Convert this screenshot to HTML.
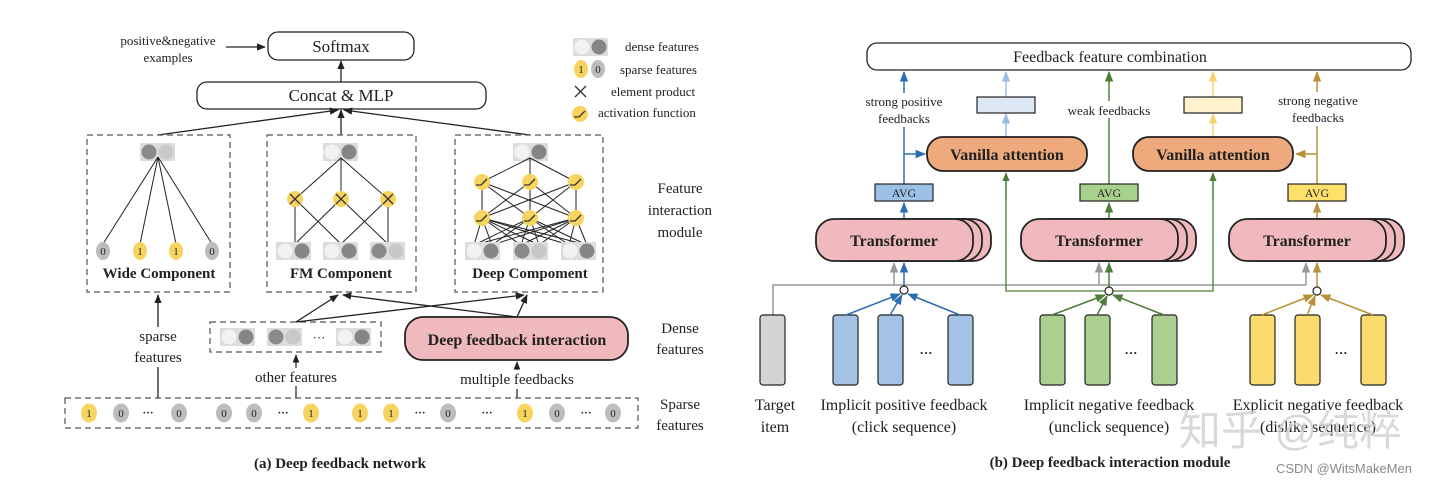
<!DOCTYPE html>
<html><head><meta charset="utf-8"><style>
html,body{margin:0;padding:0;background:#fff;}
svg{display:block;}
text{font-family:"Liberation Serif",serif;fill:#222;}
.b{font-weight:bold;}
</style></head><body>
<svg width="1440" height="485" viewBox="0 0 1440 485" xmlns="http://www.w3.org/2000/svg">
<defs>
<marker id="ak" viewBox="0 0 10 10" refX="9" refY="5" markerWidth="7" markerHeight="7" orient="auto-start-reverse"><path d="M0,1 L10,5 L0,9 z" fill="#222"/></marker>
<marker id="ab" viewBox="0 0 10 10" refX="9" refY="5" markerWidth="7" markerHeight="7" orient="auto"><path d="M0,1 L10,5 L0,9 z" fill="#2e6db4"/></marker>
<marker id="alb" viewBox="0 0 10 10" refX="9" refY="5" markerWidth="7" markerHeight="7" orient="auto"><path d="M0,1 L10,5 L0,9 z" fill="#9dbde3"/></marker>
<marker id="ag" viewBox="0 0 10 10" refX="9" refY="5" markerWidth="7" markerHeight="7" orient="auto"><path d="M0,1 L10,5 L0,9 z" fill="#4e7d3a"/></marker>
<marker id="ay" viewBox="0 0 10 10" refX="9" refY="5" markerWidth="7" markerHeight="7" orient="auto"><path d="M0,1 L10,5 L0,9 z" fill="#b8913a"/></marker>
<marker id="aly" viewBox="0 0 10 10" refX="9" refY="5" markerWidth="7" markerHeight="7" orient="auto"><path d="M0,1 L10,5 L0,9 z" fill="#f5d36a"/></marker>
<marker id="agr" viewBox="0 0 10 10" refX="9" refY="5" markerWidth="7" markerHeight="7" orient="auto"><path d="M0,1 L10,5 L0,9 z" fill="#999"/></marker>
<g id="pLD"><rect width="35" height="18" fill="#dcdcdc"/><circle cx="9" cy="9" r="7.5" fill="#f2f2f2"/><circle cx="26" cy="9" r="7.5" fill="#858585"/></g>
<g id="pDL"><rect width="35" height="18" fill="#dcdcdc"/><circle cx="9" cy="9" r="7.5" fill="#8a8a8a"/><circle cx="26" cy="9" r="7.5" fill="#c8c8c8"/></g>
<g id="xn"><circle r="8" fill="#f7d460"/><path d="M-5,-5 L5,5 M5,-5 L-5,5" stroke="#333" stroke-width="1.3"/></g>
<g id="an"><circle r="8" fill="#f7d460"/><path d="M-6,3 L-1,3 L5,-3" stroke="#333" stroke-width="1.3" fill="none"/></g>
</defs>

<!-- ========== LEFT ========== -->
<text x="168" y="45" font-size="13" text-anchor="middle">positive&amp;negative</text>
<text x="168" y="62" font-size="13" text-anchor="middle">examples</text>
<line x1="226" y1="47" x2="265" y2="47" stroke="#222" stroke-width="1.3" marker-end="url(#ak)"/>
<rect x="268" y="32" width="146" height="28" rx="10" fill="#fff" stroke="#222" stroke-width="1.3"/>
<text x="341" y="52" font-size="17" text-anchor="middle">Softmax</text>
<line x1="341" y1="82" x2="341" y2="61" stroke="#222" stroke-width="1.3" marker-end="url(#ak)"/>
<rect x="197" y="82" width="289" height="27" rx="10" fill="#fff" stroke="#222" stroke-width="1.3"/>
<text x="341" y="101" font-size="17" text-anchor="middle">Concat &amp; MLP</text>

<!-- legend -->
<use href="#pLD" x="573" y="38"/>
<text x="625" y="51" font-size="13">dense features</text>
<ellipse cx="581" cy="69" rx="7" ry="9" fill="#f7d460"/><text x="581" y="73" font-size="11" text-anchor="middle">1</text>
<ellipse cx="598" cy="69" rx="7" ry="9" fill="#bdbdbd"/><text x="598" y="73" font-size="11" text-anchor="middle">0</text>
<text x="620" y="74" font-size="13">sparse features</text>
<path d="M575,86 L586,97 M586,86 L575,97" stroke="#333" stroke-width="1.3"/><circle cx="580" cy="91" r="0" />
<text x="611" y="96" font-size="13">element product</text>
<use href="#an" x="580" y="114"/>
<text x="598" y="117" font-size="13">activation function</text>

<!-- arrows to concat -->
<g stroke="#222" stroke-width="1.3" fill="none">
<line x1="158" y1="135" x2="338" y2="110" marker-end="url(#ak)"/>
<line x1="341" y1="135" x2="341" y2="110" marker-end="url(#ak)"/>
<line x1="530" y1="135" x2="344" y2="110" marker-end="url(#ak)"/>
</g>

<!-- dashed boxes -->
<g fill="none" stroke="#555" stroke-width="1.2" stroke-dasharray="6,4">
<rect x="87" y="135" width="143" height="157"/>
<rect x="267" y="135" width="149" height="157"/>
<rect x="455" y="135" width="148" height="157"/>
</g>

<!-- Wide -->
<use href="#pDL" x="140" y="143"/>
<g stroke="#222" stroke-width="1">
<line x1="158" y1="157" x2="103" y2="244"/><line x1="158" y1="157" x2="140" y2="244"/>
<line x1="158" y1="157" x2="176" y2="244"/><line x1="158" y1="157" x2="212" y2="244"/>
</g>
<ellipse cx="103" cy="251" rx="7" ry="9" fill="#bdbdbd"/><text x="103" y="255" font-size="11" text-anchor="middle">0</text>
<ellipse cx="140" cy="251" rx="7" ry="9" fill="#f7d460"/><text x="140" y="255" font-size="11" text-anchor="middle">1</text>
<ellipse cx="176" cy="251" rx="7" ry="9" fill="#f7d460"/><text x="176" y="255" font-size="11" text-anchor="middle">1</text>
<ellipse cx="212" cy="251" rx="7" ry="9" fill="#bdbdbd"/><text x="212" y="255" font-size="11" text-anchor="middle">0</text>
<text x="159" y="278" font-size="15" class="b" text-anchor="middle">Wide Component</text>

<!-- FM -->
<use href="#pLD" x="323" y="143"/>
<g stroke="#222" stroke-width="1">
<line x1="341" y1="158" x2="295" y2="199"/><line x1="341" y1="158" x2="341" y2="199"/><line x1="341" y1="158" x2="388" y2="199"/>
<line x1="295" y1="199" x2="295" y2="244"/><line x1="295" y1="199" x2="341" y2="244"/>
<line x1="341" y1="199" x2="295" y2="244"/><line x1="341" y1="199" x2="388" y2="244"/>
<line x1="388" y1="199" x2="341" y2="244"/><line x1="388" y1="199" x2="388" y2="244"/>
</g>
<use href="#xn" x="295" y="199"/><use href="#xn" x="341" y="199"/><use href="#xn" x="388" y="199"/>
<use href="#pLD" x="276" y="242"/><use href="#pLD" x="323" y="242"/><use href="#pDL" x="370" y="242"/>
<text x="341" y="278" font-size="15" class="b" text-anchor="middle">FM Component</text>

<!-- Deep -->
<use href="#pLD" x="513" y="143"/>
<g stroke="#222" stroke-width="1">
<line x1="530" y1="158" x2="482" y2="182"/><line x1="530" y1="158" x2="530" y2="182"/><line x1="530" y1="158" x2="576" y2="182"/>
<line x1="482" y1="182" x2="482" y2="218"/><line x1="482" y1="182" x2="530" y2="218"/><line x1="482" y1="182" x2="576" y2="218"/>
<line x1="530" y1="182" x2="482" y2="218"/><line x1="530" y1="182" x2="530" y2="218"/><line x1="530" y1="182" x2="576" y2="218"/>
<line x1="576" y1="182" x2="482" y2="218"/><line x1="576" y1="182" x2="530" y2="218"/><line x1="576" y1="182" x2="576" y2="218"/>
<line x1="482" y1="218" x2="474" y2="245"/><line x1="482" y1="218" x2="492" y2="245"/><line x1="482" y1="218" x2="521" y2="245"/><line x1="482" y1="218" x2="539" y2="245"/><line x1="482" y1="218" x2="569" y2="245"/><line x1="482" y1="218" x2="587" y2="245"/>
<line x1="530" y1="218" x2="474" y2="245"/><line x1="530" y1="218" x2="492" y2="245"/><line x1="530" y1="218" x2="521" y2="245"/><line x1="530" y1="218" x2="539" y2="245"/><line x1="530" y1="218" x2="569" y2="245"/><line x1="530" y1="218" x2="587" y2="245"/>
<line x1="576" y1="218" x2="474" y2="245"/><line x1="576" y1="218" x2="492" y2="245"/><line x1="576" y1="218" x2="521" y2="245"/><line x1="576" y1="218" x2="539" y2="245"/><line x1="576" y1="218" x2="569" y2="245"/><line x1="576" y1="218" x2="587" y2="245"/>
</g>
<use href="#an" x="482" y="182"/><use href="#an" x="530" y="182"/><use href="#an" x="576" y="182"/>
<use href="#an" x="482" y="218"/><use href="#an" x="530" y="218"/><use href="#an" x="576" y="218"/>
<use href="#pLD" x="465" y="242"/><use href="#pDL" x="513" y="242"/><use href="#pLD" x="561" y="242"/>
<text x="530" y="278" font-size="15" class="b" text-anchor="middle">Deep Compoment</text>

<!-- lower left -->
<line x1="158" y1="398" x2="158" y2="295" stroke="#222" stroke-width="1.3" marker-end="url(#ak)"/>
<rect x="128" y="327" width="62" height="40" fill="#fff"/>
<text x="158" y="341" font-size="15" text-anchor="middle">sparse</text>
<text x="158" y="362" font-size="15" text-anchor="middle">features</text>

<rect x="210" y="322" width="171" height="30" fill="none" stroke="#555" stroke-width="1.2" stroke-dasharray="6,4"/>
<use href="#pLD" x="220" y="328"/><use href="#pDL" x="267" y="328"/>
<text x="319" y="342" font-size="13" text-anchor="middle">···</text>
<use href="#pLD" x="336" y="328"/>
<text x="296" y="382" font-size="15" text-anchor="middle">other features</text>
<line x1="296" y1="398" x2="296" y2="386" stroke="#222" stroke-width="1.2"/>
<line x1="296" y1="368" x2="296" y2="355" stroke="#222" stroke-width="1.2" marker-end="url(#ak)"/>

<rect x="405" y="317" width="223" height="43" rx="18" fill="#f0b9bd" stroke="#222" stroke-width="1.8"/>
<text x="517" y="345" font-size="16" class="b" text-anchor="middle">Deep feedback interaction</text>
<text x="517" y="384" font-size="15" text-anchor="middle">multiple feedbacks</text>
<line x1="517" y1="398" x2="517" y2="389" stroke="#222" stroke-width="1.2"/>
<line x1="517" y1="370" x2="517" y2="362" stroke="#222" stroke-width="1.2" marker-end="url(#ak)"/>

<g stroke="#222" stroke-width="1.3" fill="none">
<line x1="296" y1="322" x2="338" y2="295" marker-end="url(#ak)"/>
<line x1="296" y1="322" x2="524" y2="295" marker-end="url(#ak)"/>
<line x1="517" y1="317" x2="343" y2="295" marker-end="url(#ak)"/>
<line x1="517" y1="317" x2="527" y2="295" marker-end="url(#ak)"/>
</g>

<rect x="65" y="398" width="573" height="30" fill="none" stroke="#555" stroke-width="1.2" stroke-dasharray="6,4"/>
<g font-size="11" text-anchor="middle">
<ellipse cx="89" cy="413" rx="8" ry="9.5" fill="#f7d460"/><text x="89" y="417">1</text>
<ellipse cx="121" cy="413" rx="8" ry="9.5" fill="#bdbdbd"/><text x="121" y="417">0</text>
<text x="148" y="416" class="b">···</text>
<ellipse cx="179" cy="413" rx="8" ry="9.5" fill="#bdbdbd"/><text x="179" y="417">0</text>
<ellipse cx="224" cy="413" rx="8" ry="9.5" fill="#bdbdbd"/><text x="224" y="417">0</text>
<ellipse cx="254" cy="413" rx="8" ry="9.5" fill="#bdbdbd"/><text x="254" y="417">0</text>
<text x="283" y="416" class="b">···</text>
<ellipse cx="311" cy="413" rx="8" ry="9.5" fill="#f7d460"/><text x="311" y="417">1</text>
<ellipse cx="360" cy="413" rx="8" ry="9.5" fill="#f7d460"/><text x="360" y="417">1</text>
<ellipse cx="391" cy="413" rx="8" ry="9.5" fill="#f7d460"/><text x="391" y="417">1</text>
<text x="420" y="416" class="b">···</text>
<ellipse cx="448" cy="413" rx="8" ry="9.5" fill="#bdbdbd"/><text x="448" y="417">0</text>
<text x="487" y="416" class="b">···</text>
<ellipse cx="525" cy="413" rx="8" ry="9.5" fill="#f7d460"/><text x="525" y="417">1</text>
<ellipse cx="557" cy="413" rx="8" ry="9.5" fill="#bdbdbd"/><text x="557" y="417">0</text>
<text x="586" y="416" class="b">···</text>
<ellipse cx="613" cy="413" rx="8" ry="9.5" fill="#bdbdbd"/><text x="613" y="417">0</text>
</g>

<g font-size="15" text-anchor="middle">
<text x="680" y="193">Feature</text><text x="680" y="215">interaction</text><text x="680" y="237">module</text>
<text x="680" y="333">Dense</text><text x="680" y="354">features</text>
<text x="680" y="409">Sparse</text><text x="680" y="430">features</text>
</g>
<text x="340" y="468" font-size="15" class="b" text-anchor="middle">(a) Deep feedback network</text>

<!-- ========== RIGHT ========== -->
<rect x="867" y="43" width="544" height="27" rx="10" fill="#fff" stroke="#222" stroke-width="1.3"/>
<text x="1110" y="62" font-size="16" text-anchor="middle">Feedback feature combination</text>

<!-- blue path -->
<line x1="904" y1="184" x2="904" y2="72" stroke="#2e6db4" stroke-width="1.5" marker-end="url(#ab)"/>
<line x1="904" y1="154" x2="925" y2="154" stroke="#2e6db4" stroke-width="1.5" marker-end="url(#ab)"/>
<rect x="858" y="93" width="92" height="34" fill="#fff"/>
<text x="904" y="106" font-size="13" text-anchor="middle">strong positive</text>
<text x="904" y="123" font-size="13" text-anchor="middle">feedbacks</text>
<line x1="1006" y1="137" x2="1006" y2="114" stroke="#9dbde3" stroke-width="1.5" marker-end="url(#alb)"/>
<line x1="1006" y1="97" x2="1006" y2="72" stroke="#9dbde3" stroke-width="1.5" marker-end="url(#alb)"/>
<rect x="977" y="97" width="58" height="16" fill="#dde8f4" stroke="#222" stroke-width="1.2"/>
<!-- green path -->
<line x1="1109" y1="184" x2="1109" y2="72" stroke="#4e7d3a" stroke-width="1.5" marker-end="url(#ag)"/>
<rect x="1060" y="101" width="98" height="17" fill="#fff"/>
<text x="1109" y="115" font-size="13" text-anchor="middle">weak feedbacks</text>
<!-- yellow -->
<line x1="1213" y1="137" x2="1213" y2="114" stroke="#f5d36a" stroke-width="1.5" marker-end="url(#aly)"/>
<line x1="1213" y1="97" x2="1213" y2="72" stroke="#f5d36a" stroke-width="1.5" marker-end="url(#aly)"/>
<rect x="1184" y="97" width="58" height="16" fill="#fff2cc" stroke="#222" stroke-width="1.2"/>
<line x1="1317" y1="184" x2="1317" y2="72" stroke="#b8913a" stroke-width="1.5" marker-end="url(#ay)"/>
<line x1="1317" y1="154" x2="1296" y2="154" stroke="#b8913a" stroke-width="1.5" marker-end="url(#ay)"/>
<rect x="1270" y="92" width="94" height="34" fill="#fff"/>
<text x="1318" y="105" font-size="13" text-anchor="middle">strong negative</text>
<text x="1318" y="122" font-size="13" text-anchor="middle">feedbacks</text>

<!-- vanilla -->
<rect x="927" y="137" width="160" height="34" rx="16" fill="#eea97c" stroke="#222" stroke-width="1.8"/>
<text x="1007" y="160" font-size="16" class="b" text-anchor="middle">Vanilla attention</text>
<rect x="1133" y="137" width="160" height="34" rx="16" fill="#eea97c" stroke="#222" stroke-width="1.8"/>
<text x="1213" y="160" font-size="16" class="b" text-anchor="middle">Vanilla attention</text>

<!-- AVG -->
<rect x="875" y="184" width="58" height="17" fill="#9dc0e6" stroke="#222" stroke-width="1.2"/>
<text x="904" y="197" font-size="12" text-anchor="middle">AVG</text>
<rect x="1080" y="184" width="58" height="17" fill="#a9d18e" stroke="#222" stroke-width="1.2"/>
<text x="1109" y="197" font-size="12" text-anchor="middle">AVG</text>
<rect x="1288" y="184" width="58" height="17" fill="#ffe06b" stroke="#222" stroke-width="1.2"/>
<text x="1317" y="197" font-size="12" text-anchor="middle">AVG</text>
<line x1="904" y1="219" x2="904" y2="203" stroke="#2e6db4" stroke-width="1.5" marker-end="url(#ab)"/>
<line x1="1109" y1="219" x2="1109" y2="203" stroke="#4e7d3a" stroke-width="1.5" marker-end="url(#ag)"/>
<line x1="1317" y1="219" x2="1317" y2="203" stroke="#b8913a" stroke-width="1.5" marker-end="url(#ay)"/>

<!-- transformers -->
<g fill="#f0b9bd" stroke="#222" stroke-width="1.8">
<rect x="834" y="219" width="157" height="42" rx="18"/><rect x="825" y="219" width="157" height="42" rx="18"/><rect x="816" y="219" width="157" height="42" rx="18"/>
<rect x="1039" y="219" width="157" height="42" rx="18"/><rect x="1030" y="219" width="157" height="42" rx="18"/><rect x="1021" y="219" width="157" height="42" rx="18"/>
<rect x="1247" y="219" width="157" height="42" rx="18"/><rect x="1238" y="219" width="157" height="42" rx="18"/><rect x="1229" y="219" width="157" height="42" rx="18"/>
</g>
<text x="894" y="246" font-size="16" class="b" text-anchor="middle">Transformer</text>
<text x="1099" y="246" font-size="16" class="b" text-anchor="middle">Transformer</text>
<text x="1307" y="246" font-size="16" class="b" text-anchor="middle">Transformer</text>

<!-- gray target line -->
<polyline points="773,315 773,285 1306,285" fill="none" stroke="#999" stroke-width="1.5"/>
<line x1="894" y1="285" x2="894" y2="263" stroke="#999" stroke-width="1.5" marker-end="url(#agr)"/>
<line x1="1099" y1="285" x2="1099" y2="263" stroke="#999" stroke-width="1.5" marker-end="url(#agr)"/>
<line x1="1306" y1="285" x2="1306" y2="263" stroke="#999" stroke-width="1.5" marker-end="url(#agr)"/>
<!-- green rect -->
<polyline points="1006,173 1006,291 1213,291 1213,173" fill="none" stroke="#4e7d3a" stroke-width="1.3"/>
<line x1="1006" y1="200" x2="1006" y2="173" stroke="#4e7d3a" stroke-width="1.3" marker-end="url(#ag)"/>
<line x1="1213" y1="200" x2="1213" y2="173" stroke="#4e7d3a" stroke-width="1.3" marker-end="url(#ag)"/>
<!-- colored up lines -->
<line x1="904" y1="287" x2="904" y2="263" stroke="#2e6db4" stroke-width="1.5" marker-end="url(#ab)"/>
<line x1="1109" y1="288" x2="1109" y2="263" stroke="#4e7d3a" stroke-width="1.5" marker-end="url(#ag)"/>
<line x1="1317" y1="288" x2="1317" y2="263" stroke="#b8913a" stroke-width="1.5" marker-end="url(#ay)"/>

<!-- bars -->
<rect x="760" y="315" width="25" height="70" rx="3" fill="#d4d4d4" stroke="#222" stroke-width="1.2"/>
<g fill="#a4c2e6" stroke="#222" stroke-width="1.2">
<rect x="833" y="315" width="25" height="70" rx="3"/><rect x="878" y="315" width="25" height="70" rx="3"/><rect x="948" y="315" width="25" height="70" rx="3"/>
</g>
<g fill="#abd08f" stroke="#222" stroke-width="1.2">
<rect x="1040" y="315" width="25" height="70" rx="3"/><rect x="1085" y="315" width="25" height="70" rx="3"/><rect x="1152" y="315" width="25" height="70" rx="3"/>
</g>
<g fill="#fbdb6e" stroke="#222" stroke-width="1.2">
<rect x="1250" y="315" width="25" height="70" rx="3"/><rect x="1295" y="315" width="25" height="70" rx="3"/><rect x="1361" y="315" width="25" height="70" rx="3"/>
</g>
<g font-size="13" class="b" text-anchor="middle"><text x="926" y="357">···</text><text x="1131" y="357">···</text><text x="1341" y="357">···</text></g>

<g stroke="#2e6db4" stroke-width="1.5">
<line x1="846" y1="315" x2="900" y2="294" marker-end="url(#ab)"/><line x1="890" y1="315" x2="902" y2="295" marker-end="url(#ab)"/><line x1="960" y1="315" x2="908" y2="294" marker-end="url(#ab)"/>
</g>
<g stroke="#4e7d3a" stroke-width="1.5">
<line x1="1052" y1="315" x2="1105" y2="295" marker-end="url(#ag)"/><line x1="1097" y1="315" x2="1107" y2="296" marker-end="url(#ag)"/><line x1="1164" y1="315" x2="1113" y2="295" marker-end="url(#ag)"/>
</g>
<g stroke="#b8913a" stroke-width="1.5">
<line x1="1262" y1="315" x2="1313" y2="295" marker-end="url(#ay)"/><line x1="1307" y1="315" x2="1315" y2="296" marker-end="url(#ay)"/><line x1="1373" y1="315" x2="1321" y2="295" marker-end="url(#ay)"/>
</g>
<circle cx="904" cy="290" r="4" fill="#fff" stroke="#222" stroke-width="1.2"/>
<circle cx="1109" cy="291" r="4" fill="#fff" stroke="#222" stroke-width="1.2"/>
<circle cx="1317" cy="291" r="4" fill="#fff" stroke="#222" stroke-width="1.2"/>

<g font-size="16" text-anchor="middle">
<text x="775" y="410">Target</text><text x="775" y="432">item</text>
<text x="904" y="410">Implicit positive feedback</text><text x="904" y="432">(click sequence)</text>
<text x="1109" y="410">Implicit negative feedback</text><text x="1109" y="432">(unclick sequence)</text>
<text x="1318" y="410">Explicit negative feedback</text><text x="1318" y="432">(dislike sequence)</text>
</g>
<text x="1290" y="445" font-size="42" fill="#cfcfcf" fill-opacity="0.8" text-anchor="middle" style="font-family:'Liberation Sans','Noto Sans CJK SC',sans-serif;fill:#d0d0d0">知乎 @纯粹</text>
<text x="1110" y="467" font-size="15" class="b" text-anchor="middle">(b) Deep feedback interaction module</text>
<text x="1344" y="473" font-size="13" text-anchor="middle" style="font-family:'Liberation Sans',sans-serif;fill:#8a8a8a">CSDN @WitsMakeMen</text>
</svg>
</body></html>
